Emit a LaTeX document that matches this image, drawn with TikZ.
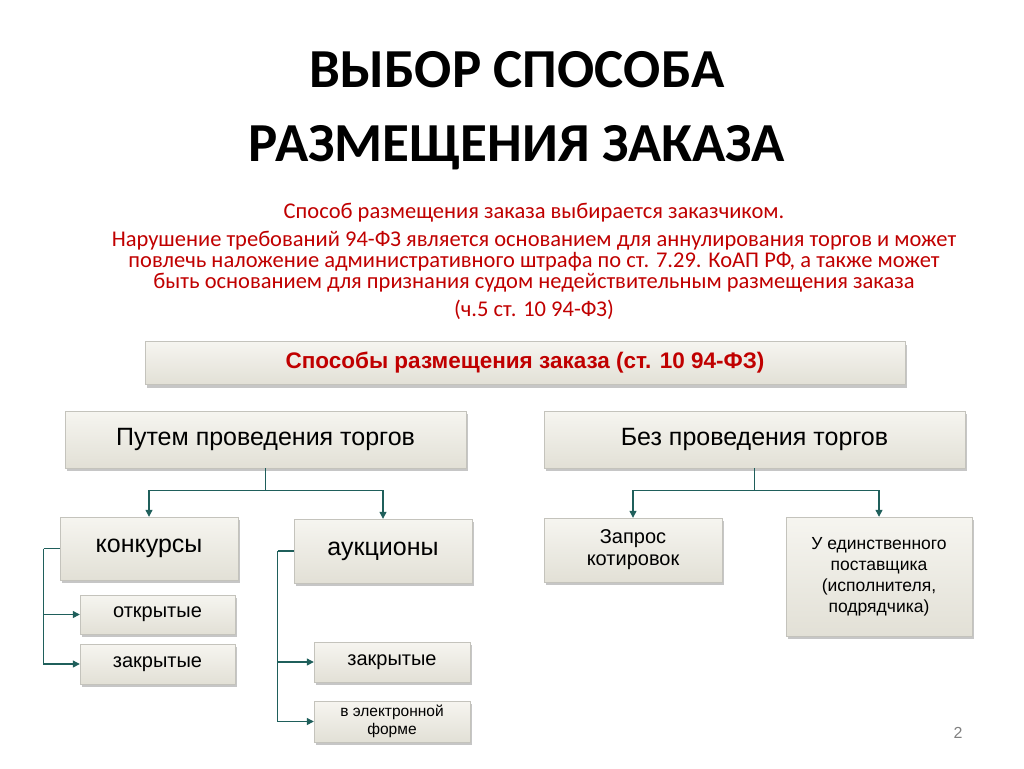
\documentclass[tikz,border=0pt]{standalone}
\usepackage{fontspec}
\setmainfont{Carlito}
\newfontfamily\arial{Liberation Sans}
\usetikzlibrary{shadows,arrows.meta}
\definecolor{boxg}{HTML}{E2E0D6}
\definecolor{boxl}{HTML}{F6F5F0}
\definecolor{teal}{HTML}{1F5F5B}
\definecolor{redt}{HTML}{C00000}
\tikzset{
  bx/.style={draw=boxg!70!gray, fill=boxg, top color=boxl, bottom color=boxg, drop shadow={opacity=0.45, shadow xshift=2pt, shadow yshift=-3pt}, font=\arial, align=center, text=black},
  conn/.style={draw=teal, line width=1.2pt, -{Triangle[length=7pt,width=7pt]}},
  line/.style={draw=teal, line width=1.2pt},
}
\begin{document}
\begin{tikzpicture}[x=1pt,y=-1pt]
\useasboundingbox (0,0) rectangle (1024,768);
\node[font=\bfseries\fontsize{55}{60}\selectfont] (t1) at (517,70) {ВЫБОР СПОСОБА};
\node[font=\bfseries\fontsize{55}{60}\selectfont] (t2) at (517,148) {РАЗМЕЩЕНИЯ ЗАКАЗА};
\node[text=redt, font=\fontsize{22.5}{21}\selectfont, align=center] (p) at (534,261) {Способ размещения заказа выбирается заказчиком.\\[7pt]
Нарушение требований 94-ФЗ является основанием для аннулирования торгов и может\\
повлечь наложение административного штрафа по ст. 7.29. КоАП РФ, а также может\\
быть основанием для признания судом недействительным размещения заказа\\[7pt]
(ч.5 ст. 10 94-ФЗ)};
\node[bx, minimum width=760, minimum height=43, font=\arial\bfseries\fontsize{22.5}{26}\selectfont, text=redt] (m) at (525,363) {Способы размещения заказа (ст. 10 94-ФЗ)};
\node[bx, minimum width=401, minimum height=57, font=\arial\fontsize{25}{30}\selectfont] (a) at (265.5,439.5) {Путем проведения торгов};
\node[bx, minimum width=421, minimum height=57, font=\arial\fontsize{25}{30}\selectfont] (b) at (754.5,439.5) {Без проведения торгов};
\node[bx, minimum width=178, minimum height=63, font=\arial\fontsize{25}{30}\selectfont] (k) at (149,548.5) {конкурсы};
\node[bx, minimum width=178, minimum height=64, font=\arial\fontsize{25}{30}\selectfont] (au) at (383,551) {аукционы};
\node[bx, minimum width=178, minimum height=64, font=\arial\fontsize{20}{22}\selectfont] (z) at (633,550) {Запрос\\котировок};
\node[bx, minimum width=186, minimum height=119, font=\arial\fontsize{17.5}{21}\selectfont] (u) at (879,576.5) {У единственного\\поставщика\\(исполнителя,\\подрядчика)};
\node[bx, minimum width=155, minimum height=39, font=\arial\fontsize{20}{24}\selectfont] (o) at (157.5,614.5) {открытые};
\node[bx, minimum width=155, minimum height=40, font=\arial\fontsize{20}{24}\selectfont] (zl) at (157.5,664) {закрытые};
\node[bx, minimum width=156, minimum height=40, font=\arial\fontsize{20}{24}\selectfont] (zr) at (392,662) {закрытые};
\node[bx, minimum width=156, minimum height=41, font=\arial\fontsize{15.5}{18}\selectfont, inner sep=1pt] (e) at (392,721.5) {в электронной\\форме};
\node[text=gray, font=\arial\fontsize{16}{18}\selectfont] (n) at (958,733) {2};
% connectors
\draw[line] (a.south) -- ++(0,22) coordinate (ja);
\draw[conn] (ja) -| (k.north);
\draw[conn] (ja) -| (au.north);
\draw[line] (b.south) -- ++(0,22) coordinate (jb);
\draw[conn] (jb) -| (z.north);
\draw[conn] (jb) -| (u.north);
\draw[line] (k.west) -- ++(-16,0) coordinate (kl);
\draw[conn] (kl) |- (o.west);
\draw[conn] (kl) |- (zl.west);
\draw[line] (au.west) -- ++(-16,0) coordinate (al);
\draw[conn] (al) |- (zr.west);
\draw[conn] (al) |- (e.west);
\end{tikzpicture}
\end{document}
